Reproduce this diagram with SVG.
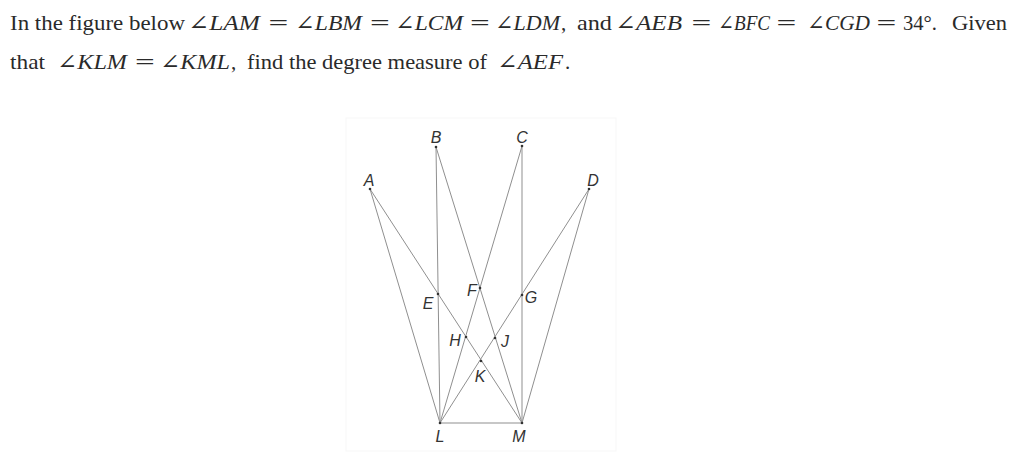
<svg xmlns="http://www.w3.org/2000/svg" width="1024" height="458" viewBox="0 0 1024 458">
<style>
.t{font-family:"Liberation Serif","DejaVu Serif",serif;font-size:21px;fill:#2a2a2a}
text.e{font-family:"DejaVu Sans",sans-serif;font-size:26px;text-anchor:middle;font-weight:300}
.m{font-style:italic}
.u{font-style:normal}
.lbl{font-family:"Liberation Sans",Arial,sans-serif;font-style:italic;font-size:16px;fill:#333;text-anchor:middle}
.ln{stroke:#8f8f8f;stroke-width:1;fill:none}
.pt{fill:#333}
</style>
<rect width="1024" height="458" fill="#ffffff"/>
<g id="text">
<text class="t" x="10" y="30" textLength="175" lengthAdjust="spacingAndGlyphs">In the figure below</text>
<text class="t m" x="188" y="30" textLength="72" lengthAdjust="spacingAndGlyphs"><tspan class="u">∠</tspan>LAM</text>
<text class="t e" x="278.5" y="31">=</text>
<text class="t m" x="295" y="30" textLength="67" lengthAdjust="spacingAndGlyphs"><tspan class="u">∠</tspan>LBM</text>
<text class="t e" x="380" y="31">=</text>
<text class="t m" x="395" y="30" textLength="68" lengthAdjust="spacingAndGlyphs"><tspan class="u">∠</tspan>LCM</text>
<text class="t e" x="480" y="31">=</text>
<text class="t m" x="495" y="30" textLength="65" lengthAdjust="spacingAndGlyphs"><tspan class="u">∠</tspan>LDM</text>
<text class="t" x="561" y="30">,</text>
<text class="t" x="577" y="30" textLength="35" lengthAdjust="spacingAndGlyphs">and</text>
<text class="t m" x="615" y="30" textLength="67" lengthAdjust="spacingAndGlyphs"><tspan class="u">∠</tspan>AEB</text>
<text class="t e" x="701.5" y="31">=</text>
<text class="t m" x="718" y="30" textLength="52" lengthAdjust="spacingAndGlyphs"><tspan class="u">∠</tspan>BFC</text>
<text class="t e" x="786.5" y="31">=</text>
<text class="t m" x="807" y="30" textLength="63" lengthAdjust="spacingAndGlyphs"><tspan class="u">∠</tspan>CGD</text>
<text class="t e" x="886.5" y="31">=</text>
<text class="t" x="903" y="30" textLength="34" lengthAdjust="spacingAndGlyphs">34°.</text>
<text class="t" x="952" y="30" textLength="55" lengthAdjust="spacingAndGlyphs">Given</text>
<text class="t" x="10" y="69" textLength="35" lengthAdjust="spacingAndGlyphs">that</text>
<text class="t m" x="57" y="69" textLength="70" lengthAdjust="spacingAndGlyphs"><tspan class="u">∠</tspan>KLM</text>
<text class="t e" x="145" y="70">=</text>
<text class="t m" x="160" y="69" textLength="70" lengthAdjust="spacingAndGlyphs"><tspan class="u">∠</tspan>KML</text>
<text class="t" x="231" y="69">,</text>
<text class="t" x="247" y="69" textLength="240" lengthAdjust="spacingAndGlyphs">find the degree measure of</text>
<text class="t m" x="497" y="69" textLength="66" lengthAdjust="spacingAndGlyphs"><tspan class="u">∠</tspan>AEF</text>
<text class="t" x="565" y="69">.</text>
</g>
<rect x="346" y="118" width="270" height="333" fill="none" stroke="#f7f7f7" stroke-width="1"/>
<g id="connectors">
<line class="ln" x1="370" y1="189" x2="440" y2="423"/>
<line class="ln" x1="370" y1="189" x2="522" y2="423"/>
<line class="ln" x1="436" y1="147" x2="440" y2="423"/>
<line class="ln" x1="436" y1="147" x2="522" y2="423"/>
<line class="ln" x1="522" y1="146" x2="440" y2="423"/>
<line class="ln" x1="522" y1="146" x2="522" y2="423"/>
<line class="ln" x1="589" y1="189" x2="440" y2="423"/>
<line class="ln" x1="589" y1="189" x2="522" y2="423"/>
<line class="ln" x1="440" y1="423" x2="522" y2="423"/>
</g>
<g id="A"><circle class="pt" cx="370" cy="189" r="1.3"/><text class="lbl" x="369" y="186">A</text></g>
<g id="B"><circle class="pt" cx="436" cy="147" r="1.3"/><text class="lbl" x="436" y="143">B</text></g>
<g id="C"><circle class="pt" cx="522" cy="146" r="1.3"/><text class="lbl" x="522" y="143">C</text></g>
<g id="D"><circle class="pt" cx="589" cy="189" r="1.3"/><text class="lbl" x="593" y="186">D</text></g>
<g id="E"><circle class="pt" cx="438" cy="294" r="1.3"/><text class="lbl" x="428" y="309">E</text></g>
<g id="F"><circle class="pt" cx="480" cy="288" r="1.3"/><text class="lbl" x="472" y="296">F</text></g>
<g id="G"><circle class="pt" cx="522" cy="295" r="1.3"/><text class="lbl" x="531" y="303">G</text></g>
<g id="H"><circle class="pt" cx="466" cy="337" r="1.3"/><text class="lbl" x="455" y="346">H</text></g>
<g id="J"><circle class="pt" cx="495" cy="338" r="1.3"/><text class="lbl" x="505" y="347">J</text></g>
<g id="K"><circle class="pt" cx="481" cy="361" r="1.3"/><text class="lbl" x="480" y="382">K</text></g>
<g id="L"><circle class="pt" cx="440" cy="423" r="1.3"/><text class="lbl" x="440" y="442">L</text></g>
<g id="M"><circle class="pt" cx="522" cy="423" r="1.3"/><text class="lbl" x="519" y="442">M</text></g>
</svg>
